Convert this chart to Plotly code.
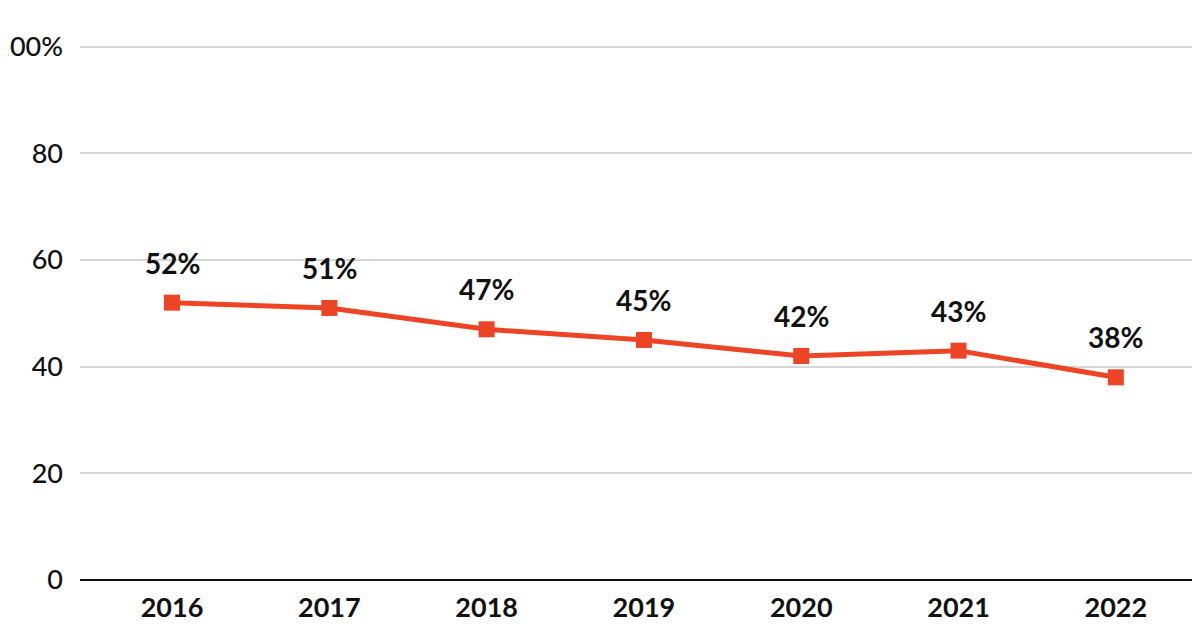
import plotly.graph_objects as go

years = ["2016", "2017", "2018", "2019", "2020", "2021", "2022"]
values = [52, 51, 47, 45, 42, 43, 38]
labels = ["52%", "51%", "47%", "45%", "42%", "43%", "38%"]
ytick_vals = [0, 20, 40, 60, 80, 100]
ytick_text = ["0", "20", "40", "60", "80", "100%"]

RED = "#EE4426"
FONT = "Lato"

fig = go.Figure()
fig.add_trace(go.Scatter(
    x=years, y=values, mode="lines+markers",
    line=dict(color=RED, width=5),
    marker=dict(symbol="square", size=16, color=RED),
    cliponaxis=False, hoverinfo="skip",
))

for i, (y, t) in enumerate(zip(values, labels)):
    fig.add_annotation(x=i, y=y, xref="x", yref="y", text=t, showarrow=False, yshift=40,
                       font=dict(family=FONT, size=28, color="#111111", weight="bold"))

fig.update_layout(
    width=1192, height=622,
    margin=dict(l=72, r=0, t=37, b=50),
    plot_bgcolor="white", paper_bgcolor="white",
    showlegend=False,
    font=dict(family=FONT, color="#111111"),
)
fig.update_xaxes(
    type="category", range=[-0.585, 6.535],
    showgrid=False, showline=False, zeroline=False,
    tickfont=dict(family=FONT, size=27, color="#111111", weight="bold"),
    ticks="", ticklabelstandoff=9,
)
fig.update_yaxes(
    range=[0, 100.3], tickvals=ytick_vals, ticktext=ytick_text,
    showgrid=True, gridcolor="#d6d6d6", gridwidth=1.5,
    zeroline=True, zerolinecolor="#111111", zerolinewidth=2,
    showline=False, ticks="", automargin=False,
    tickfont=dict(family=FONT, size=27, color="#111111", weight=500),
    ticklabelstandoff=16,
)

fig.write_html("out.html")
